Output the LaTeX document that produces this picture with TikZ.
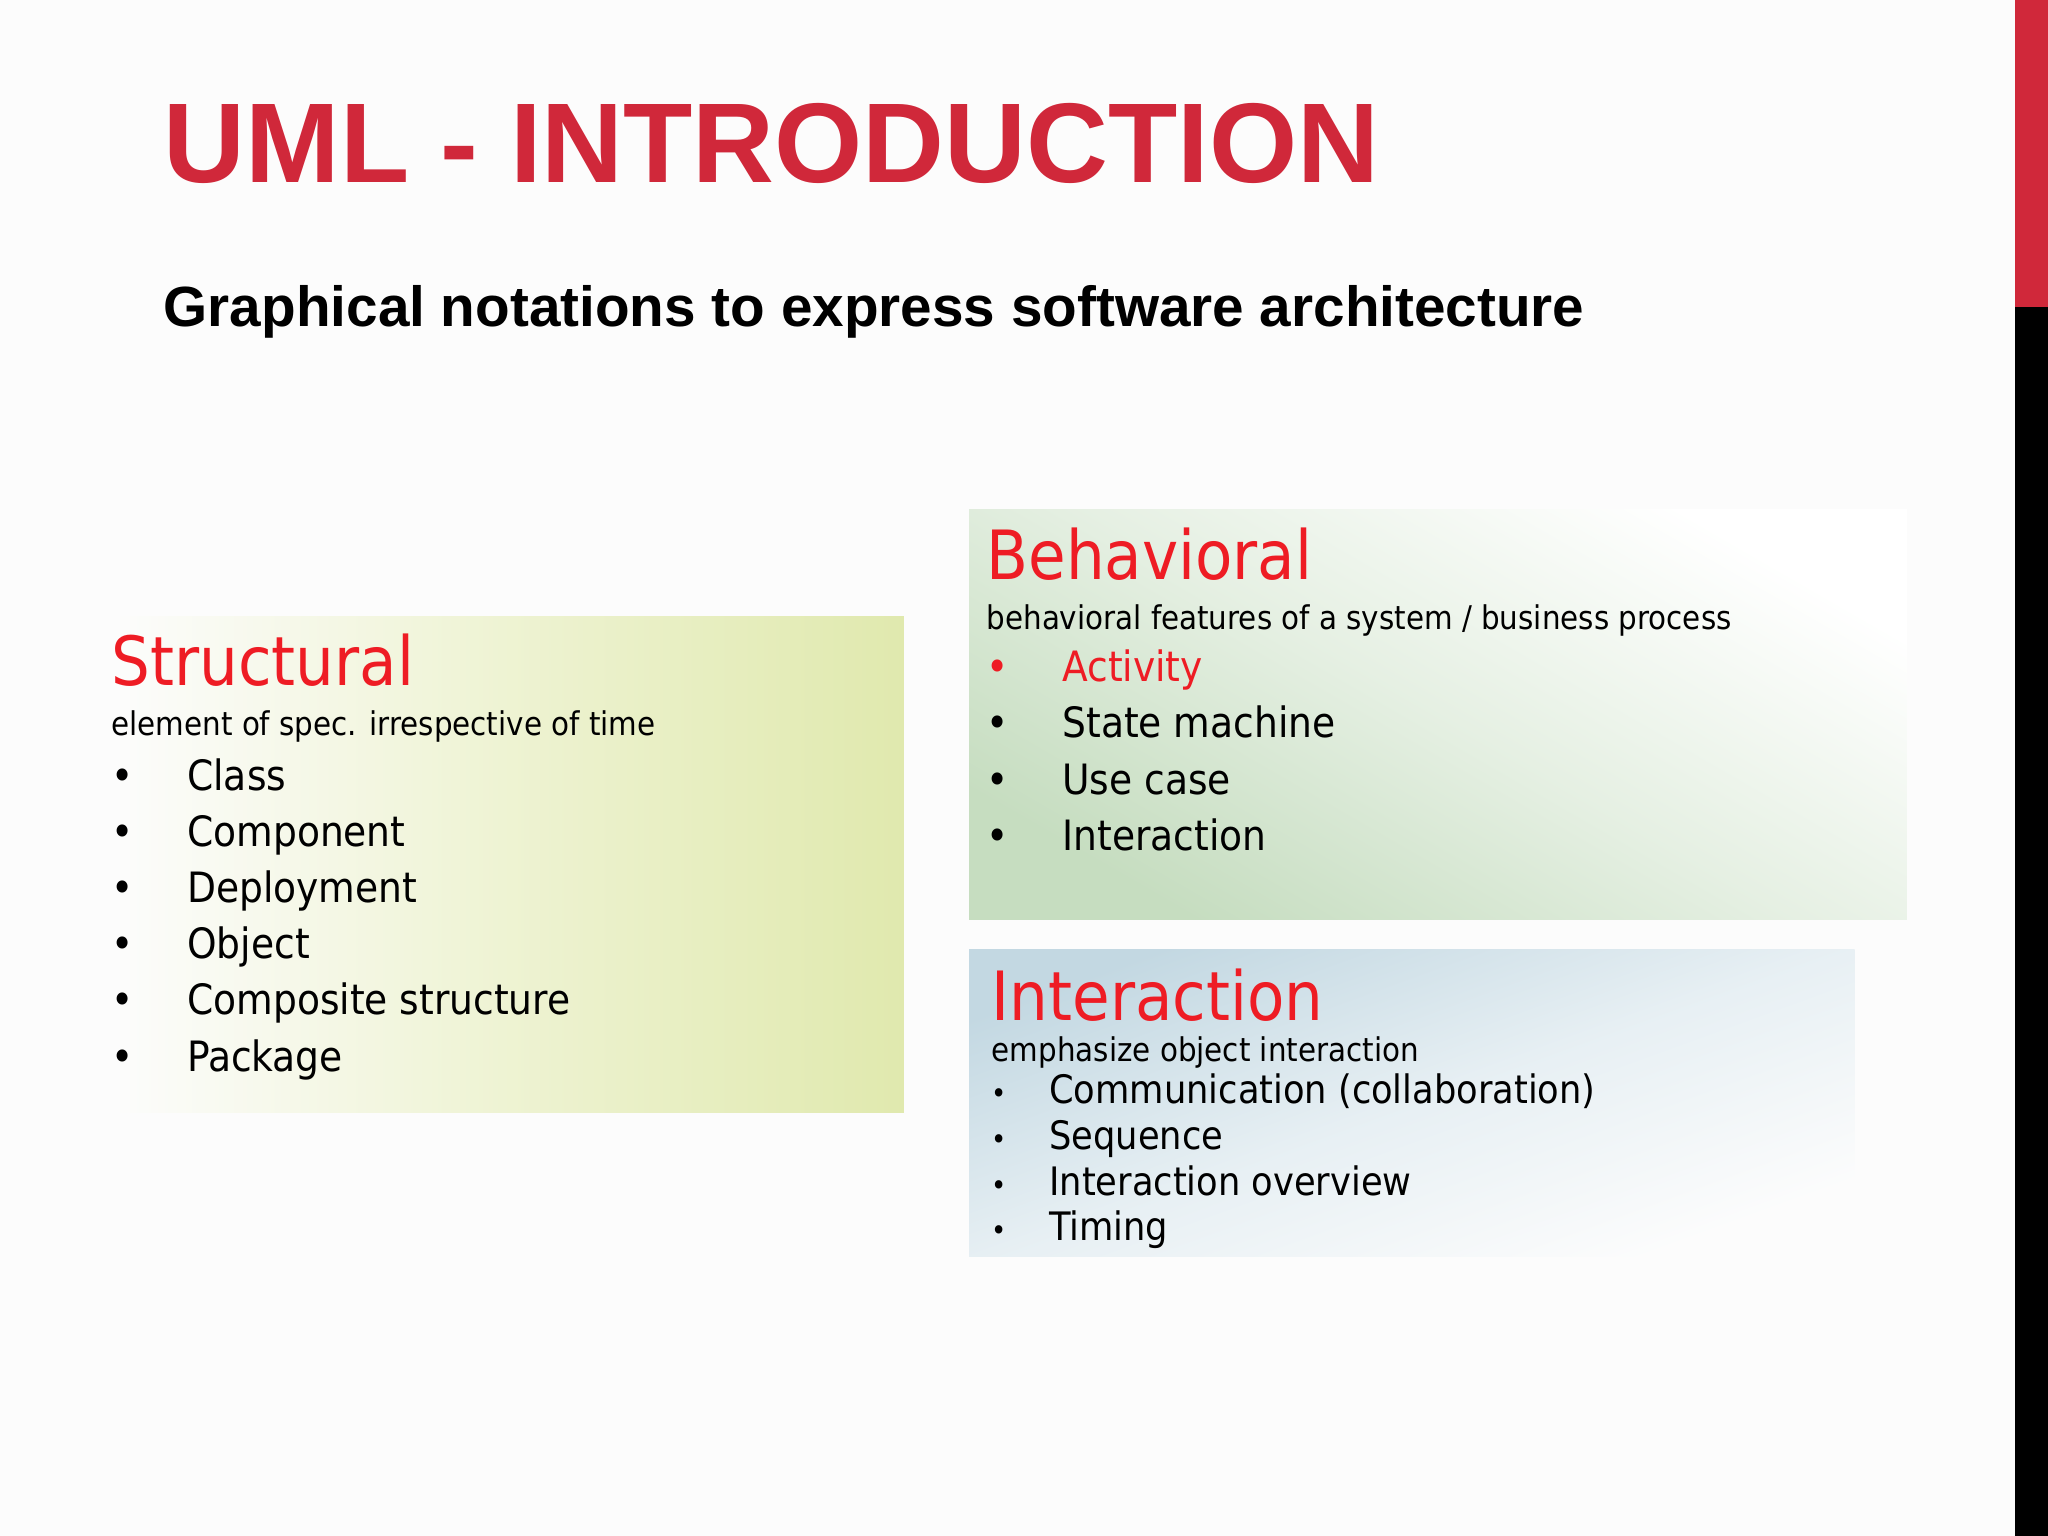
\documentclass[tikz,border=0pt]{standalone}
\usepackage{fontspec}
\setmainfont{DejaVu Sans Condensed}
\newfontfamily\headfont{Liberation Sans}
\definecolor{titlered}{HTML}{D0283A}
\definecolor{hred}{HTML}{EE1C24}
\definecolor{ygreen}{HTML}{E0E9AE}
\definecolor{sgreen}{HTML}{C6DDC0}
\definecolor{sblue}{HTML}{C3D8E2}
\begin{document}
\begin{tikzpicture}[x=0.5pt,y=-0.5pt,
  txt/.style={anchor=base west,inner sep=0pt},
  head/.style={txt,text=hred,font=\fontsize{26}{30}\selectfont},
  sub/.style={txt,font=\fontsize{12.5}{14}\selectfont},
  item/.style={txt,font=\fontsize{16}{18}\selectfont},
  itemb/.style={txt,font=\fontsize{15}{17}\selectfont}]
\useasboundingbox (0,0) rectangle (1568,1176);
\fill[white!98!gray] (0,0) rectangle (1543,1176);
\fill[titlered] (1543,0) rectangle (1568,235);
\fill[black] (1543,235) rectangle (1568,1176);
\node[txt,text=titlered,font=\headfont\bfseries\fontsize{43.4}{48}\selectfont] (title) at (125,140) {UML - INTRODUCTION};
\node[txt,font=\headfont\bfseries\fontsize{21.7}{24}\selectfont] (subtitle) at (125,250) {Graphical notations to express software architecture};
% boxes
\shade[left color=white!98!gray,right color=ygreen,middle color=ygreen!55] (85,472) rectangle (692,852);
\shade[left color=white,right color=sgreen,middle color=sgreen!45,shading angle=-30] (742,390) rectangle (1460,704);
\shade[left color=sblue,right color=white!98!gray,middle color=sblue!40,shading angle=20] (742,727) rectangle (1420,962);
% structural
\node[head] (sh) at (85,525) {Structural};
\node[sub] (ss) at (85,563) {element of spec. irrespective of time};
\foreach \t [count=\i] in {Class,Component,Deployment,Object,Composite structure,Package}{
  \node[item] (sb\i) at (85,605+43*\i-43) {\textbullet};
  \node[item] (si\i) at (143,605+43*\i-43) {\t};}
% behavioral
\node[head] (bh) at (755,444) {Behavioral};
\node[sub] (bs) at (755,482) {behavioral features of a system / business process};
\node[item,text=hred] (bb1) at (755,522) {\textbullet};
\node[item,text=hred] (bi1) at (813,522) {Activity};
\foreach \t [count=\i] in {State machine,Use case,Interaction}{
  \node[item] (bb\i x) at (755,565+43*\i-43) {\textbullet};
  \node[item] (bi\i x) at (813,565+43*\i-43) {\t};}
% interaction
\node[head] (ih) at (759,781) {Interaction};
\node[sub] (is) at (759,813) {emphasize object interaction};
\foreach \t [count=\i] in {Communication (collaboration),Sequence,Interaction overview,Timing}{
  \node[itemb,font=\fontsize{11}{13}\selectfont] (ib\i) at (759,845+35*\i-35) {\textbullet};
  \node[itemb] (ii\i) at (803,845+35*\i-35) {\t};}
\end{tikzpicture}
\end{document}
